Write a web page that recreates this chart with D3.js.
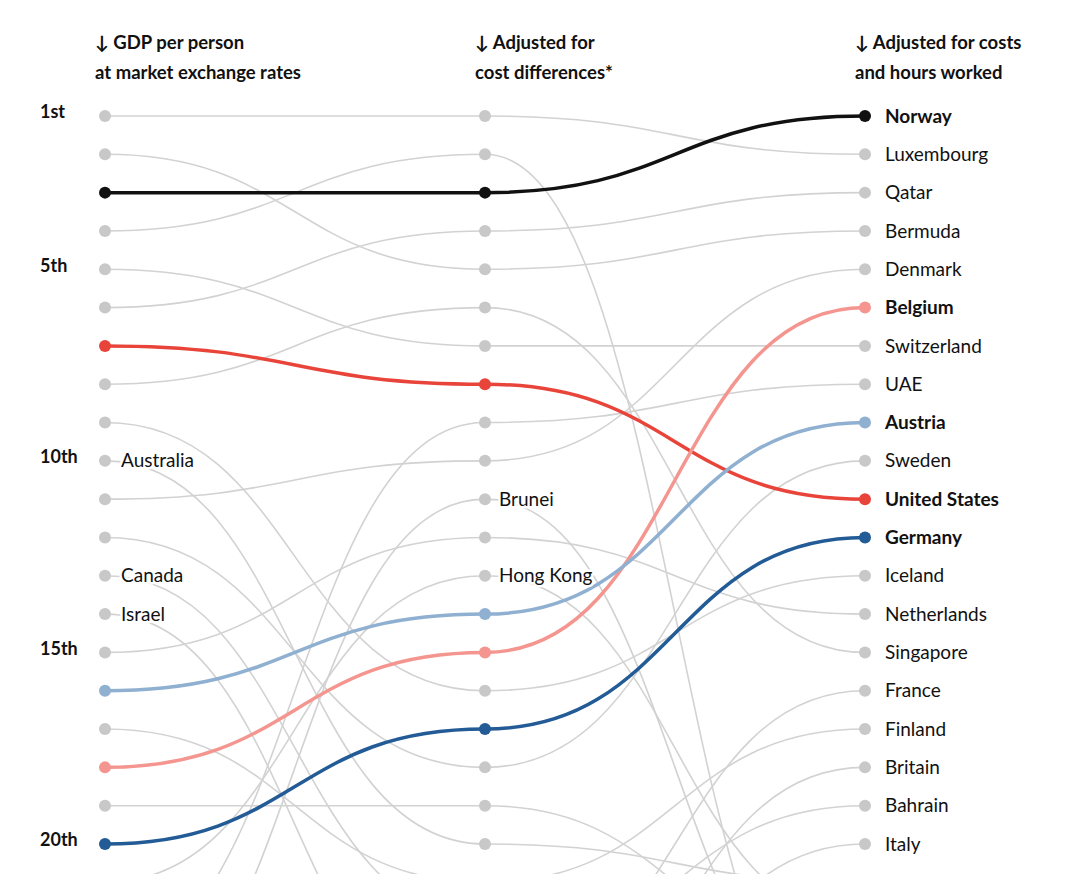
<!DOCTYPE html>
<meta charset="utf-8">
<style>
  body { margin: 0; background: #fff; }
  text { font-family: Lato, "Open Sans", sans-serif; }
</style>
<body>
<div id="chart"></div>
<script src="https://cdn.jsdelivr.net/npm/d3@7"></script>
<script>
  // rank order in each column (index 0 = 1st); names past 20 run off the bottom
  const colMarket = ['Luxembourg', 'Bermuda', 'Norway', 'Ireland', 'Switzerland', 'Qatar',
    'United States', 'Singapore', 'Iceland', 'Australia', 'Denmark', 'Sweden', 'Canada',
    'Israel', 'Netherlands', 'Austria', 'Finland', 'Belgium', 'San Marino', 'Germany',
    'Hong Kong', 'Britain', 'UAE', 'France', 'Brunei', 'Bahrain', 'Italy'];
  const colCost = ['Luxembourg', 'Ireland', 'Norway', 'Qatar', 'Bermuda', 'Singapore',
    'Switzerland', 'United States', 'UAE', 'Denmark', 'Brunei', 'Netherlands', 'Hong Kong',
    'Austria', 'Belgium', 'Iceland', 'Germany', 'Sweden', 'San Marino', 'Australia',
    'Finland', 'Canada', 'Bahrain', 'France', 'Israel', 'Britain', 'Italy'];
  const colHours = ['Norway', 'Luxembourg', 'Qatar', 'Bermuda', 'Denmark', 'Belgium',
    'Switzerland', 'UAE', 'Austria', 'Sweden', 'United States', 'Germany', 'Iceland',
    'Netherlands', 'Singapore', 'France', 'Finland', 'Britain', 'Bahrain', 'Italy',
    'Australia', 'Hong Kong', 'San Marino', 'Canada', 'Brunei', 'Ireland', 'Israel'];

  const headers = [['↓ GDP per person', 'at market exchange rates'],
    ['↓ Adjusted for', 'cost differences*'],
    ['↓ Adjusted for costs', 'and hours worked']];
  const rankTicks = [1, 5, 10, 15, 20];
  const labelsMarket = ['Australia', 'Canada', 'Israel'];
  const labelsCost = ['Brunei', 'Hong Kong'];
  const highlight = { 'Norway': '#111111', 'United States': '#e8443a', 'Belgium': '#f4958f',
    'Austria': '#8fb0d0', 'Germany': '#225b95' };

  const W = 1084, H = 891;
  const svg = d3.select('#chart').append('svg').attr('width', W).attr('height', H);
  svg.append('clipPath').attr('id', 'clip').append('rect')
    .attr('x', 0).attr('y', 0).attr('width', W).attr('height', 874);

  const x = d3.scalePoint().domain([0, 1, 2]).range([105, 865]);
  const y = d3.scaleLinear().domain([1, 20]).range([116, 844]);
  const cols = [colMarket, colCost, colHours];
  const countries = Array.from(new Set(colHours.concat(colMarket, colCost)));
  const pts = c => cols.map((col, i) => [x(i), y(col.indexOf(c) + 1)]);
  const line = d3.line().curve(d3.curveBumpX);

  const g = svg.append('g').attr('clip-path', 'url(#clip)');
  const order = countries.filter(c => !highlight[c]).concat(Object.keys(highlight));
  g.selectAll('path').data(order).join('path')
    .attr('d', c => line(pts(c)))
    .attr('fill', 'none')
    .attr('stroke', c => highlight[c] || '#d2d2d2')
    .attr('stroke-width', c => highlight[c] ? 3.5 : 1.6);

  cols.forEach((col, i) => {
    col.slice(0, 20).forEach((c, r) => {
      g.append('circle').attr('cx', x(i)).attr('cy', y(r + 1)).attr('r', 6)
        .attr('fill', highlight[c] || '#c8c8c8');
    });
  });

  const lab = (txt, xx, yy, bold) => {
    svg.append('text').attr('x', xx).attr('y', yy).attr('dy', '0.35em')
      .attr('font-size', 19).attr('font-weight', bold ? 700 : 400)
      .attr('stroke', '#fff').attr('stroke-width', 5).attr('stroke-linejoin', 'round')
      .attr('fill', '#111').attr('paint-order', 'stroke').text(txt);
  };
  labelsMarket.forEach(c => lab(c, x(0) + 16, y(colMarket.indexOf(c) + 1), false));
  labelsCost.forEach(c => lab(c, x(1) + 14, y(colCost.indexOf(c) + 1), false));
  colHours.slice(0, 20).forEach((c, r) => lab(c, x(2) + 20, y(r + 1), !!highlight[c]));

  svg.selectAll('.rank').data(rankTicks).join('text')
    .attr('x', 40).attr('y', d => y(d) - 4).attr('dy', '0.35em')
    .attr('font-size', 18).attr('font-weight', 700).attr('fill', '#111')
    .text(d => d === 1 ? '1st' : d + 'th');

  headers.forEach((h, i) => {
    const t = svg.append('text').attr('x', x(i) - 10).attr('y', 49)
      .attr('font-size', 18.5).attr('font-weight', 700).attr('fill', '#111');
    h.forEach((s, j) => t.append('tspan').attr('x', x(i) - 10).attr('dy', j ? 30 : 0).text(s));
  });
</script>
